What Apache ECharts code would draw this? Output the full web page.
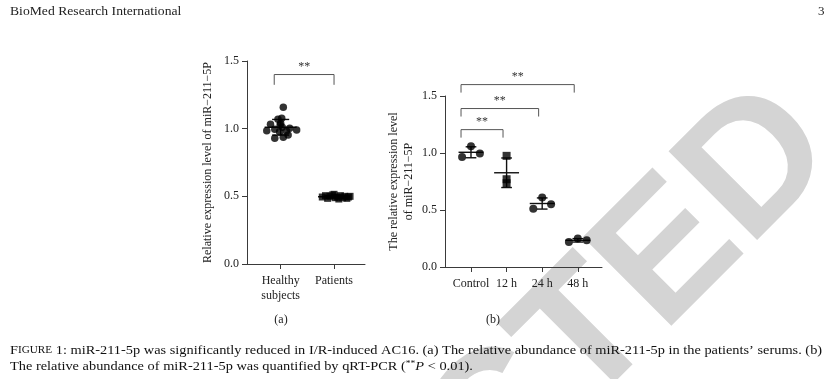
<!DOCTYPE html>
<html><head><meta charset="utf-8">
<script src="https://cdn.jsdelivr.net/npm/echarts@6/dist/echarts.min.js"></script>
<style>html,body{margin:0;padding:0;background:#fff}#c{width:838px;height:379px}</style>
</head><body><div id="c"></div>
<script>
// ---------- data ----------
const yTicks = [0, 0.5, 1.0, 1.5];
const catsA = ['Healthy\nsubjects', 'Patients'];
const healthyVals = [1.158, 1.077, 1.070, 1.032, 1.027, 0.985, 0.995, 1.010, 1.003, 0.990, 0.929, 0.936, 0.953, 0.978, 0.982, 1.040];
const healthyJit  = [0.05, 0.02, -0.05, -0.19, -0.01, -0.26, -0.11, 0.03, 0.17, 0.30, -0.11, 0.05, 0.14, -0.02, 0.11, 0.00];
const patientVals = [0.495, 0.505, 0.485, 0.500, 0.510, 0.515, 0.490, 0.495, 0.480, 0.505, 0.490, 0.500, 0.485, 0.495, 0.500];
const patientJit  = [-0.22, -0.16, -0.12, -0.08, -0.03, 0.00, 0.02, 0.06, 0.09, 0.12, 0.16, 0.20, 0.24, 0.27, 0.30];
const catsB = ['Control', '12 h', '24 h', '48 h'];
const controlVals = [0.965, 1.059, 0.995];
const h12Vals = [0.975, 0.770, 0.735];
const h24Vals = [0.512, 0.609, 0.550];
const h48Vals = [0.219, 0.249, 0.234];
const triJit = [-0.25, 0.00, 0.25];
const h12Jit = [0, 0, 0];
const sigA = [[0, 1, 1.40]];
const sigB = [[0, 1, 1.205], [0, 2, 1.39], [0, 3, 1.60]];

// ---------- helpers ----------
const FONT = '"Liberation Serif", "Times New Roman", serif';
const AX = '#3a3a3a';
function mean(a){return a.reduce((s,v)=>s+v,0)/a.length;}
function sd(a){const m=mean(a);return Math.sqrt(a.reduce((s,v)=>s+(v-m)*(v-m),0)/(a.length-1));}
function pts(cat, vals, jit){return vals.map((v,i)=>[cat+jit[i], v]);}

function errRender(halfMean, halfCap){
  return function(params, api){
    const x = api.value(0), m = api.value(1), s = api.value(2);
    const a = api.coord([x-halfMean, m]), b = api.coord([x+halfMean, m]);
    const top = api.coord([x, m+s]), bot = api.coord([x, m-s]);
    const ct1 = api.coord([x-halfCap, m+s]), ct2 = api.coord([x+halfCap, m+s]);
    const cb1 = api.coord([x-halfCap, m-s]), cb2 = api.coord([x+halfCap, m-s]);
    const st = {stroke:'#111', lineWidth:1.4, fill:null};
    return {type:'group', children:[
      {type:'line', shape:{x1:a[0],y1:a[1],x2:b[0],y2:b[1]}, style:st},
      {type:'line', shape:{x1:top[0],y1:top[1],x2:bot[0],y2:bot[1]}, style:st},
      {type:'line', shape:{x1:ct1[0],y1:ct1[1],x2:ct2[0],y2:ct2[1]}, style:st},
      {type:'line', shape:{x1:cb1[0],y1:cb1[1],x2:cb2[0],y2:cb2[1]}, style:st}
    ]};
  };
}
function sigRender(offL, offR, drop){
  return function(params, api){
    const x1 = api.value(0)+offL, x2 = api.value(1)+offR, y = api.value(2);
    const p1 = api.coord([x1, y-drop]), p2 = api.coord([x1, y]), p3 = api.coord([x2, y]), p4 = api.coord([x2, y-drop]);
    return {type:'group', children:[
      {type:'polyline', shape:{points:[p1,p2,p3,p4]}, style:{stroke:'#555', lineWidth:1, fill:null}},
      {type:'text', x:(p2[0]+p3[0])/2, y:p2[1]-2, style:{text:'**', font:'12px '+FONT, fill:'#333', align:'center', verticalAlign:'bottom'}}
    ]};
  };
}

const axisCommon = {
  axisLine:{show:true, onZero:false, lineStyle:{color:AX, width:1}},
  splitLine:{show:false}
};
function yAx(grid, name, gap){
  return Object.assign({}, axisCommon, {
    gridIndex:grid, type:'value', min:0, max:1.5,
    axisTick:{show:true, customValues:yTicks, length:5, lineStyle:{color:AX}},
    axisLabel:{customValues:yTicks, formatter:v=>v.toFixed(1), margin:8, fontFamily:FONT, fontSize:12, color:'#222'},
    name:name, nameLocation:'middle', nameRotate:90, nameGap:gap,
    nameTextStyle:{fontFamily:FONT, fontSize:12, color:'#222', lineHeight:15}
  });
}
function xAx(grid, cats, min, max, margin){
  const idx = cats.map((c,i)=>i);
  return Object.assign({}, axisCommon, {
    gridIndex:grid, type:'value', min:min, max:max,
    axisTick:{show:true, customValues:idx, length:5, lineStyle:{color:AX}},
    axisLabel:{customValues:idx, formatter:v=>cats[Math.round(v)], margin:margin, fontFamily:FONT, fontSize:12, color:'#222', lineHeight:15, verticalAlign:'top'}
  });
}

const chart = echarts.init(document.getElementById('c'), null, {renderer:'canvas'});
const groupsA = [[0, mean(healthyVals), sd(healthyVals)], [1, mean(patientVals), sd(patientVals)]];
const groupsB = [controlVals, h12Vals, h24Vals, h48Vals].map((g,i)=>[i, mean(g), sd(g)]);

chart.setOption({
  animation:false,
  backgroundColor:'#fff',
  grid:[
    {left:247, top:61, width:118, height:203},
    {left:445, top:96, width:157, height:171}
  ],
  xAxis:[xAx(0, catsA, -0.63, 1.58, 9), xAx(1, catsB, -0.73, 3.68, 9)],
  yAxis:[yAx(0, 'Relative expression level of miR\u2212211\u22125P', 32), yAx(1, 'The relative expression level\nof miR\u2212211\u22125P', 29)],
  graphic:[
    {type:'text', x:806, y:120, rotation:Math.PI/4, z:-10, silent:true,
     style:{text:'RETRACTED', font:'bold 182px "Liberation Sans", Arial, sans-serif', fill:'#d4d4d4', align:'right', verticalAlign:'middle'}},
    {type:'text', x:10, y:12, scaleX:1.05, style:{text:'BioMed Research International', font:'13px '+FONT, fill:'#222', verticalAlign:'middle'}},
    {type:'text', x:818, y:12, style:{text:'3', font:'13px '+FONT, fill:'#222', verticalAlign:'middle'}},
    {type:'text', x:281, y:320, style:{text:'(a)', font:'12px '+FONT, fill:'#222', align:'center', verticalAlign:'middle'}},
    {type:'text', x:493, y:320, style:{text:'(b)', font:'12px '+FONT, fill:'#222', align:'center', verticalAlign:'middle'}},
    {type:'text', x:10, y:350, z:10, scaleX:1.064, style:{
      text:'{n|F}{s|IGURE}{n| 1: miR-211-5p was significantly reduced in I/R-induced AC16. (a) The relative abundance of miR-211-5p in the patients\u2019 serums. (b)}',
      verticalAlign:'middle',
      rich:{n:{font:'13.5px '+FONT, fill:'#111'}, s:{font:'10.5px '+FONT, fill:'#111'}}}},
    {type:'text', x:10, y:366, z:10, scaleX:1.064, style:{
      text:'{n|The relative abundance of miR-211-5p was quantified by qRT-PCR (}{s|**}{i|P}{n| < 0.01).}',
      verticalAlign:'middle',
      rich:{n:{font:'13.5px '+FONT, fill:'#111'}, s:{font:'9px '+FONT, fill:'#111', verticalAlign:'top'}, i:{font:'italic 13.5px '+FONT, fill:'#111'}}}}
  ],
  series:[
    {type:'custom', xAxisIndex:0, yAxisIndex:0, z:3, renderItem:errRender(0.30, 0.16), data:groupsA, clip:false},
    {type:'scatter', xAxisIndex:0, yAxisIndex:0, z:4, symbol:'circle', symbolSize:7.5, itemStyle:{color:'#000'}, data:pts(0, healthyVals, healthyJit)},
    {type:'scatter', xAxisIndex:0, yAxisIndex:0, z:4, symbol:'rect', symbolSize:7, itemStyle:{color:'#000'}, data:pts(1, patientVals, patientJit)},
    {type:'custom', xAxisIndex:0, yAxisIndex:0, z:3, renderItem:sigRender(-0.12, 0, 0.076), data:sigA, clip:false},
    {type:'custom', xAxisIndex:1, yAxisIndex:1, z:3, renderItem:errRender(0.35, 0.15), data:groupsB, clip:false},
    {type:'scatter', xAxisIndex:1, yAxisIndex:1, z:4, symbol:'circle', symbolSize:8, itemStyle:{color:'#000'}, data:pts(0, controlVals, triJit)},
    {type:'scatter', xAxisIndex:1, yAxisIndex:1, z:4, symbol:'rect', symbolSize:8, itemStyle:{color:'#000'}, data:pts(1, h12Vals, h12Jit)},
    {type:'scatter', xAxisIndex:1, yAxisIndex:1, z:4, symbol:'circle', symbolSize:8, itemStyle:{color:'#000'}, data:pts(2, h24Vals, triJit)},
    {type:'scatter', xAxisIndex:1, yAxisIndex:1, z:4, symbol:'circle', symbolSize:8, itemStyle:{color:'#000'}, data:pts(3, h48Vals, triJit)},
    {type:'custom', xAxisIndex:1, yAxisIndex:1, z:3, renderItem:sigRender(-0.28, -0.1, 0.07), data:sigB, clip:false}
  ]
});
</script></body></html>
